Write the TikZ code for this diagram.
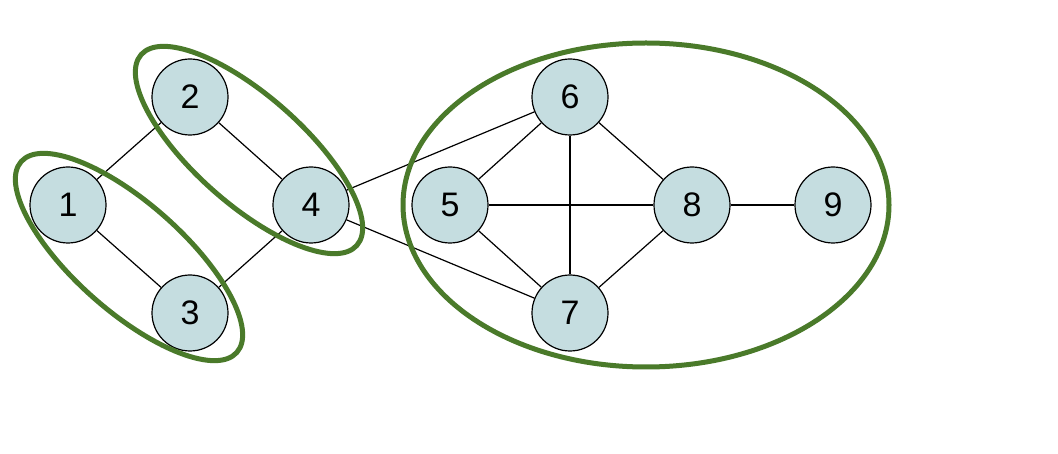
\documentclass[tikz,border=0pt]{standalone}
\usepackage{fontspec}
\setmainfont{Liberation Sans}
\begin{document}
\begin{tikzpicture}[x=1pt,y=-1pt,
  vert/.style={circle,draw=black,line width=1.2pt,fill=blue0,minimum size=76pt,inner sep=0pt,font=\fontsize{34}{34}\selectfont},
  grp/.style={draw=green0,line width=5pt},
  edge/.style={line width=1.2pt}]
\definecolor{blue0}{HTML}{C5DDE0}
\definecolor{green0}{HTML}{4A7A2A}
\useasboundingbox (0,0) rectangle (1058,454);
\node[vert] (n1) at (68,205) {1};
\node[vert] (n2) at (190,97) {2};
\node[vert] (n3) at (190,313) {3};
\node[vert] (n4) at (311,205) {4};
\node[vert] (n5) at (450,205) {5};
\node[vert] (n6) at (570,97) {6};
\node[vert] (n7) at (570,313) {7};
\node[vert] (n8) at (692,205) {8};
\node[vert] (n9) at (833,205) {9};
\foreach \a/\b in {n1/n2,n1/n3,n2/n4,n3/n4,n4/n6,n4/n7,n5/n6,n5/n7,n5/n8,n6/n7,n6/n8,n7/n8,n8/n9}
  \draw[edge] (\a) -- (\b);
\draw[grp] (646,205) ellipse [x radius=243, y radius=162];
\draw[grp,rotate around={-41.5:(129,257)}] (129,257) ellipse [x radius=144, y radius=54];
\draw[grp,rotate around={-41.5:(249,150)}] (249,150) ellipse [x radius=144, y radius=54];
\end{tikzpicture}
\end{document}
